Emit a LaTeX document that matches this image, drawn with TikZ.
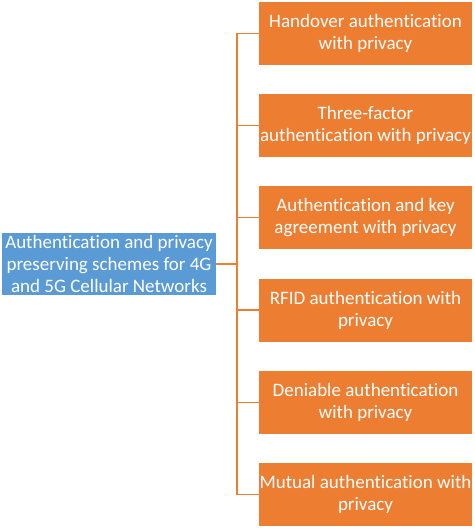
\documentclass[tikz,border=0pt]{standalone}
\usepackage{fontspec}
\setmainfont[Ligatures={NoCommon}]{Carlito}
\usepackage{tikz}
\definecolor{boxorange}{RGB}{237,125,49}
\definecolor{boxblue}{RGB}{91,155,213}

\begin{document}
\begin{tikzpicture}[x=1pt,y=-1pt,
	leaf/.style={fill=boxorange,text=white,minimum width=213pt,minimum height=63pt,align=center,inner sep=0pt,font=\fontsize{19}{22}\selectfont},
	root/.style={fill=boxblue,text=white,minimum width=214pt,minimum height=62pt,align=center,inner sep=0pt,font=\fontsize{19}{22}\selectfont},
	link/.style={draw=boxorange,line width=1.6pt}]
			\useasboundingbox (0,0) rectangle (474,529);
			
			\node[root] (main) at (109,264) {Authentication and privacy\\preserving schemes for 4G\\and 5G Cellular Networks};
			
			\node[leaf] (b1) at (365.5,33.5) {Handover authentication\\with privacy};
			\node[leaf] (b2) at (365.5,125.5) {Three-factor\\authentication with privacy};
			\node[leaf] (b3) at (365.5,217.5) {Authentication and key\\agreement with privacy};
			\node[leaf] (b4) at (365.5,310) {RFID authentication with\\privacy};
			\node[leaf] (b5) at (365.5,402.5) {Deniable authentication\\with privacy};
			\node[leaf] (b6) at (365.5,494.5) {Mutual authentication with\\privacy};
			
			\coordinate (spine) at (237,264);
			\draw[link] (main.east) -- (spine);
			\draw[link] (b1.west -| spine) -- (b6.west -| spine);
			\foreach \i in {1,...,6}
				\draw[link] (b\i.west -| spine) -- (b\i.west);
		\end{tikzpicture}
\end{document}
